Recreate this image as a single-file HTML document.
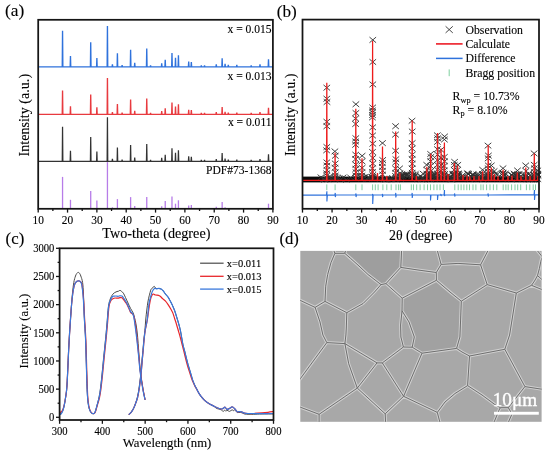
<!DOCTYPE html>
<html><head><meta charset="utf-8"><style>
html,body{margin:0;padding:0;background:#fff;width:550px;height:455px;overflow:hidden}
svg{display:block;font-family:"Liberation Serif", serif;will-change:transform}
</style></head><body>
<svg width="550" height="455" viewBox="0 0 550 455">
<g id="panel-a">
<path d="M38.20,66.90 L62.25,66.90 L62.55,30.80 L62.85,66.90 L70.17,66.90 L70.47,56.10 L70.77,66.90 L90.41,66.90 L90.71,42.30 L91.01,66.90 L96.58,66.90 L96.88,57.90 L97.17,66.90 L107.14,66.90 L107.44,26.00 L107.74,66.90 L112.12,66.90 L112.42,64.20 L112.72,66.90 L117.11,66.90 L117.41,53.20 L117.71,66.90 L121.81,66.90 L122.11,65.00 L122.41,66.90 L130.31,66.90 L130.61,49.70 L130.91,66.90 L134.42,66.90 L134.72,62.90 L135.02,66.90 L146.45,66.90 L146.75,48.40 L147.05,66.90 L150.26,66.90 L150.56,65.40 L150.86,66.90 L161.41,66.90 L161.71,63.20 L162.01,66.90 L164.93,66.90 L165.23,59.80 L165.53,66.90 L171.68,66.90 L171.98,53.00 L172.28,66.90 L175.20,66.90 L175.50,57.70 L175.80,66.90 L178.13,66.90 L178.43,55.20 L178.73,66.90 L188.40,66.90 L188.70,61.60 L189.00,66.90 L191.04,66.90 L191.34,62.00 L191.64,66.90 L201.02,66.90 L201.32,65.40 L201.62,66.90 L204.24,66.90 L204.54,65.40 L204.84,66.90 L215.98,66.90 L216.28,64.40 L216.58,66.90 L221.85,66.90 L222.15,58.20 L222.45,66.90 L224.78,66.90 L225.08,63.90 L225.38,66.90 L228.01,66.90 L228.31,64.90 L228.61,66.90 L236.51,66.90 L236.81,64.90 L237.11,66.90 L250.89,66.90 L251.19,65.40 L251.49,66.90 L259.69,66.90 L259.99,64.40 L260.29,66.90 L268.20,66.90 L268.50,59.30 L268.80,66.90 L272.90,66.90" fill="none" stroke="#2f72dc" stroke-width="1.35"/>
<path d="M38.20,114.30 L62.25,114.30 L62.55,90.40 L62.85,114.30 L70.17,114.30 L70.47,106.40 L70.77,114.30 L90.41,114.30 L90.71,94.60 L91.01,114.30 L96.58,114.30 L96.88,107.30 L97.17,114.30 L107.14,114.30 L107.44,78.10 L107.74,114.30 L112.12,114.30 L112.42,112.00 L112.72,114.30 L117.11,114.30 L117.41,104.00 L117.71,114.30 L121.81,114.30 L122.11,112.69 L122.41,114.30 L130.31,114.30 L130.61,99.60 L130.91,114.30 L134.42,114.30 L134.72,110.90 L135.02,114.30 L146.45,114.30 L146.75,98.50 L147.05,114.30 L150.26,114.30 L150.56,113.02 L150.86,114.30 L161.41,114.30 L161.71,111.16 L162.01,114.30 L164.93,114.30 L165.23,108.27 L165.53,114.30 L171.68,114.30 L171.98,102.48 L172.28,114.30 L175.20,114.30 L175.50,106.48 L175.80,114.30 L178.13,114.30 L178.43,104.36 L178.73,114.30 L188.40,114.30 L188.70,109.80 L189.00,114.30 L191.04,114.30 L191.34,110.13 L191.64,114.30 L201.02,114.30 L201.32,113.02 L201.62,114.30 L204.24,114.30 L204.54,113.02 L204.84,114.30 L215.98,114.30 L216.28,112.17 L216.58,114.30 L221.85,114.30 L222.15,106.91 L222.45,114.30 L224.78,114.30 L225.08,111.75 L225.38,114.30 L228.01,114.30 L228.31,112.60 L228.61,114.30 L236.51,114.30 L236.81,112.60 L237.11,114.30 L250.89,114.30 L251.19,113.02 L251.49,114.30 L259.69,114.30 L259.99,112.17 L260.29,114.30 L268.20,114.30 L268.50,107.84 L268.80,114.30 L272.90,114.30" fill="none" stroke="#e83a3f" stroke-width="1.35"/>
<path d="M38.20,161.40 L62.25,161.40 L62.55,126.80 L62.85,161.40 L70.17,161.40 L70.47,150.80 L70.77,161.40 L90.41,161.40 L90.71,136.90 L91.01,161.40 L96.58,161.40 L96.88,151.50 L97.17,161.40 L107.14,161.40 L107.44,117.20 L107.74,161.40 L112.12,161.40 L112.42,158.84 L112.72,161.40 L117.11,161.40 L117.41,147.50 L117.71,161.40 L121.81,161.40 L122.11,159.59 L122.41,161.40 L130.31,161.40 L130.61,145.00 L130.91,161.40 L134.42,161.40 L134.72,157.60 L135.02,161.40 L146.45,161.40 L146.75,144.00 L147.05,161.40 L150.26,161.40 L150.56,159.97 L150.86,161.40 L161.41,161.40 L161.71,157.89 L162.01,161.40 L164.93,161.40 L165.23,154.66 L165.53,161.40 L171.68,161.40 L171.98,148.19 L172.28,161.40 L175.20,161.40 L175.50,152.66 L175.80,161.40 L178.13,161.40 L178.43,150.28 L178.73,161.40 L188.40,161.40 L188.70,156.37 L189.00,161.40 L191.04,161.40 L191.34,156.75 L191.64,161.40 L201.02,161.40 L201.32,159.97 L201.62,161.40 L204.24,161.40 L204.54,159.97 L204.84,161.40 L215.98,161.40 L216.28,159.03 L216.58,161.40 L221.85,161.40 L222.15,153.14 L222.45,161.40 L224.78,161.40 L225.08,158.55 L225.38,161.40 L228.01,161.40 L228.31,159.50 L228.61,161.40 L236.51,161.40 L236.81,159.50 L237.11,161.40 L250.89,161.40 L251.19,159.97 L251.49,161.40 L259.69,161.40 L259.99,159.03 L260.29,161.40 L268.20,161.40 L268.50,154.18 L268.80,161.40 L272.90,161.40" fill="none" stroke="#333333" stroke-width="1.25"/>
<line x1="62.55" y1="208.80" x2="62.55" y2="176.90" stroke="#b77ce8" stroke-width="1.3" />
<line x1="70.47" y1="208.80" x2="70.47" y2="199.80" stroke="#b77ce8" stroke-width="1.3" />
<line x1="90.71" y1="208.80" x2="90.71" y2="190.90" stroke="#b77ce8" stroke-width="1.3" />
<line x1="96.88" y1="208.80" x2="96.88" y2="200.50" stroke="#b77ce8" stroke-width="1.3" />
<line x1="107.44" y1="208.80" x2="107.44" y2="162.10" stroke="#b77ce8" stroke-width="1.3" />
<line x1="112.42" y1="208.80" x2="112.42" y2="207.30" stroke="#b77ce8" stroke-width="1.3" />
<line x1="117.41" y1="208.80" x2="117.41" y2="199.10" stroke="#b77ce8" stroke-width="1.3" />
<line x1="130.61" y1="208.80" x2="130.61" y2="197.10" stroke="#b77ce8" stroke-width="1.3" />
<line x1="134.72" y1="208.80" x2="134.72" y2="206.10" stroke="#b77ce8" stroke-width="1.3" />
<line x1="146.75" y1="208.80" x2="146.75" y2="197.10" stroke="#b77ce8" stroke-width="1.3" />
<line x1="161.71" y1="208.80" x2="161.71" y2="206.30" stroke="#b77ce8" stroke-width="1.3" />
<line x1="165.23" y1="208.80" x2="165.23" y2="201.00" stroke="#b77ce8" stroke-width="1.3" />
<line x1="171.98" y1="208.80" x2="171.98" y2="196.50" stroke="#b77ce8" stroke-width="1.3" />
<line x1="175.50" y1="208.80" x2="175.50" y2="203.70" stroke="#b77ce8" stroke-width="1.3" />
<line x1="178.43" y1="208.80" x2="178.43" y2="200.30" stroke="#b77ce8" stroke-width="1.3" />
<line x1="188.70" y1="208.80" x2="188.70" y2="205.60" stroke="#b77ce8" stroke-width="1.3" />
<line x1="191.34" y1="208.80" x2="191.34" y2="205.10" stroke="#b77ce8" stroke-width="1.3" />
<line x1="216.28" y1="208.80" x2="216.28" y2="206.80" stroke="#b77ce8" stroke-width="1.3" />
<line x1="222.15" y1="208.80" x2="222.15" y2="202.10" stroke="#b77ce8" stroke-width="1.3" />
<line x1="225.08" y1="208.80" x2="225.08" y2="207.30" stroke="#b77ce8" stroke-width="1.3" />
<line x1="268.50" y1="208.80" x2="268.50" y2="203.70" stroke="#b77ce8" stroke-width="1.3" />
<rect x="38.2" y="19.8" width="234.70" height="189.00" fill="none" stroke="#151515" stroke-width="1.75"/>
<line x1="38.20" y1="208.80" x2="38.20" y2="212.60" stroke="#151515" stroke-width="1.3" />
<line x1="52.87" y1="208.80" x2="52.87" y2="211.00" stroke="#151515" stroke-width="1.3" />
<line x1="67.54" y1="208.80" x2="67.54" y2="212.60" stroke="#151515" stroke-width="1.3" />
<line x1="82.21" y1="208.80" x2="82.21" y2="211.00" stroke="#151515" stroke-width="1.3" />
<line x1="96.88" y1="208.80" x2="96.88" y2="212.60" stroke="#151515" stroke-width="1.3" />
<line x1="111.54" y1="208.80" x2="111.54" y2="211.00" stroke="#151515" stroke-width="1.3" />
<line x1="126.21" y1="208.80" x2="126.21" y2="212.60" stroke="#151515" stroke-width="1.3" />
<line x1="140.88" y1="208.80" x2="140.88" y2="211.00" stroke="#151515" stroke-width="1.3" />
<line x1="155.55" y1="208.80" x2="155.55" y2="212.60" stroke="#151515" stroke-width="1.3" />
<line x1="170.22" y1="208.80" x2="170.22" y2="211.00" stroke="#151515" stroke-width="1.3" />
<line x1="184.89" y1="208.80" x2="184.89" y2="212.60" stroke="#151515" stroke-width="1.3" />
<line x1="199.56" y1="208.80" x2="199.56" y2="211.00" stroke="#151515" stroke-width="1.3" />
<line x1="214.23" y1="208.80" x2="214.23" y2="212.60" stroke="#151515" stroke-width="1.3" />
<line x1="228.89" y1="208.80" x2="228.89" y2="211.00" stroke="#151515" stroke-width="1.3" />
<line x1="243.56" y1="208.80" x2="243.56" y2="212.60" stroke="#151515" stroke-width="1.3" />
<line x1="258.23" y1="208.80" x2="258.23" y2="211.00" stroke="#151515" stroke-width="1.3" />
<line x1="272.90" y1="208.80" x2="272.90" y2="212.60" stroke="#151515" stroke-width="1.3" />
<text x="0.00" y="0.00" font-size="11.4" text-anchor="middle" fill="#000" stroke="#000" stroke-width="0.12" transform="translate(38.20,224.20) scale(1,1.06)" >10</text>
<text x="0.00" y="0.00" font-size="11.4" text-anchor="middle" fill="#000" stroke="#000" stroke-width="0.12" transform="translate(67.54,224.20) scale(1,1.06)" >20</text>
<text x="0.00" y="0.00" font-size="11.4" text-anchor="middle" fill="#000" stroke="#000" stroke-width="0.12" transform="translate(96.88,224.20) scale(1,1.06)" >30</text>
<text x="0.00" y="0.00" font-size="11.4" text-anchor="middle" fill="#000" stroke="#000" stroke-width="0.12" transform="translate(126.21,224.20) scale(1,1.06)" >40</text>
<text x="0.00" y="0.00" font-size="11.4" text-anchor="middle" fill="#000" stroke="#000" stroke-width="0.12" transform="translate(155.55,224.20) scale(1,1.06)" >50</text>
<text x="0.00" y="0.00" font-size="11.4" text-anchor="middle" fill="#000" stroke="#000" stroke-width="0.12" transform="translate(184.89,224.20) scale(1,1.06)" >60</text>
<text x="0.00" y="0.00" font-size="11.4" text-anchor="middle" fill="#000" stroke="#000" stroke-width="0.12" transform="translate(214.23,224.20) scale(1,1.06)" >70</text>
<text x="0.00" y="0.00" font-size="11.4" text-anchor="middle" fill="#000" stroke="#000" stroke-width="0.12" transform="translate(243.56,224.20) scale(1,1.06)" >80</text>
<text x="0.00" y="0.00" font-size="11.4" text-anchor="middle" fill="#000" stroke="#000" stroke-width="0.12" transform="translate(272.90,224.20) scale(1,1.06)" >90</text>
<text x="102.30" y="238.10" font-size="14.2" text-anchor="start" fill="#000" stroke="#000" stroke-width="0.12" >Two-theta (degree)</text>
<text x="0.00" y="0.00" font-size="14.1" text-anchor="middle" fill="#000" stroke="#000" stroke-width="0.12" transform="translate(28.7,115.2) rotate(-90)">Intensity (a.u.)</text>
<text x="5.00" y="16.20" font-size="17.4" text-anchor="start" fill="#000" stroke="#000" stroke-width="0.12" >(a)</text>
<text x="0.00" y="0.00" font-size="11.55" text-anchor="end" fill="#000" stroke="#000" stroke-width="0.12" transform="translate(271.50,33.20) scale(1,1.05)" >x = 0.015</text>
<text x="0.00" y="0.00" font-size="11.55" text-anchor="end" fill="#000" stroke="#000" stroke-width="0.12" transform="translate(271.50,79.80) scale(1,1.05)" >x = 0.013</text>
<text x="0.00" y="0.00" font-size="11.55" text-anchor="end" fill="#000" stroke="#000" stroke-width="0.12" transform="translate(271.50,125.90) scale(1,1.05)" >x = 0.011</text>
<text x="0.00" y="0.00" font-size="11.55" text-anchor="end" fill="#000" stroke="#000" stroke-width="0.12" transform="translate(271.50,173.60) scale(1,1.05)" >PDF#73-1368</text>
</g>
<g id="panel-b">
<rect x="302.50" y="176.6" width="236.50" height="5.8" fill="#0a0a0a"/>
<path d="M323.5,84.9L330.1,90.5M323.5,90.5L330.1,84.9M323.5,95.9L330.1,101.5M323.5,101.5L330.1,95.9M323.7,99.2L330.3,104.8M323.7,104.8L330.3,99.2M323.5,119.0L330.1,124.6M323.5,124.6L330.1,119.0M323.5,123.4L330.1,129.0M323.5,129.0L330.1,123.4M323.5,144.2L330.1,149.8M323.5,149.8L330.1,144.2M323.3,147.5L329.9,153.1M323.3,153.1L329.9,147.5M323.5,159.6L330.1,165.2M323.5,165.2L330.1,159.6M323.6,162.9L330.2,168.5M323.6,168.5L330.2,162.9M323.6,167.3L330.2,172.9M323.6,172.9L330.2,167.3M323.3,170.6L329.9,176.2M323.3,176.2L329.9,170.6M323.4,172.8L330.0,178.4M323.4,178.4L330.0,172.8M331.6,148.6L338.2,154.2M331.6,154.2L338.2,148.6M332.0,153.0L338.6,158.6M332.0,158.6L338.6,153.0M331.9,160.7L338.5,166.3M331.9,166.3L338.5,160.7M331.6,165.1L338.2,170.7M331.6,170.7L338.2,165.1M332.0,169.5L338.6,175.1M332.0,175.1L338.6,169.5M332.0,172.8L338.6,178.4M332.0,178.4L338.6,172.8M352.6,101.4L359.2,107.0M352.6,107.0L359.2,101.4M352.6,110.2L359.2,115.8M352.6,115.8L359.2,110.2M352.3,115.7L358.9,121.3M352.3,121.3L358.9,115.7M352.3,121.2L358.9,126.8M352.3,126.8L358.9,121.2M352.5,135.4L359.1,141.0M352.5,141.0L359.1,135.4M352.3,138.7L358.9,144.3M352.3,144.3L358.9,138.7M352.3,142.0L358.9,147.6M352.3,147.6L358.9,142.0M352.4,151.9L359.0,157.5M352.4,157.5L359.0,151.9M352.3,156.3L358.9,161.9M352.3,161.9L358.9,156.3M352.5,161.8L359.1,167.4M352.5,167.4L359.1,161.8M352.5,166.2L359.1,171.8M352.5,171.8L359.1,166.2M352.7,169.5L359.3,175.1M352.7,175.1L359.3,169.5M352.5,172.8L359.1,178.4M352.5,178.4L359.1,172.8M358.8,153.0L365.4,158.6M358.8,158.6L365.4,153.0M358.7,158.5L365.3,164.1M358.7,164.1L365.3,158.5M358.8,165.1L365.4,170.7M358.8,170.7L365.4,165.1M358.7,169.5L365.3,175.1M358.7,175.1L365.3,169.5M358.6,172.8L365.2,178.4M358.6,178.4L365.2,172.8M369.5,37.1L376.1,42.7M369.5,42.7L376.1,37.1M369.5,59.2L376.1,64.8M369.5,64.8L376.1,59.2M369.5,81.6L376.1,87.2M369.5,87.2L376.1,81.6M369.4,104.7L376.0,110.3M369.4,110.3L376.0,104.7M369.2,107.7L375.8,113.3M369.2,113.3L375.8,107.7M369.2,109.6L375.8,115.2M369.2,115.2L375.8,109.6M369.2,112.2L375.8,117.8M369.2,117.8L375.8,112.2M369.1,114.6L375.7,120.2M369.1,120.2L375.7,114.6M369.4,124.5L376.0,130.1M369.4,130.1L376.0,124.5M369.3,132.7L375.9,138.3M369.3,138.3L375.9,132.7M369.5,140.9L376.1,146.5M369.5,146.5L376.1,140.9M369.2,149.2L375.8,154.8M369.2,154.8L375.8,149.2M369.5,155.2L376.1,160.8M369.5,160.8L376.1,155.2M369.5,160.7L376.1,166.3M369.5,166.3L376.1,160.7M369.1,165.7L375.7,171.3M369.1,171.3L375.7,165.7M369.2,169.2L375.8,174.8M369.2,174.8L375.8,169.2M369.5,172.2L376.1,177.8M369.5,177.8L376.1,172.2M379.2,140.3L385.8,145.9M379.2,145.9L385.8,140.3M379.4,157.2L386.0,162.8M379.4,162.8L386.0,157.2M379.1,160.2L385.7,165.8M379.1,165.8L385.7,160.2M379.0,164.1L385.6,169.7M379.0,169.7L385.6,164.1M379.3,168.0L385.9,173.6M379.3,173.6L385.9,168.0M379.3,171.8L385.9,177.4M379.3,177.4L385.9,171.8M392.3,123.4L398.9,129.0M392.3,129.0L398.9,123.4M392.2,131.8L398.8,137.4M392.2,137.4L398.8,131.8M392.3,148.0L398.9,153.6M392.3,153.6L398.9,148.0M392.6,156.4L399.2,162.0M392.6,162.0L399.2,156.4M392.5,159.5L399.1,165.1M392.5,165.1L399.1,159.5M392.2,165.7L398.8,171.3M392.2,171.3L398.8,165.7M392.3,170.2L398.9,175.8M392.3,175.8L398.9,170.2M392.2,173.2L398.8,178.8M392.2,178.8L398.8,173.2M396.3,165.7L402.9,171.3M396.3,171.3L402.9,165.7M396.6,170.7L403.2,176.3M396.6,176.3L403.2,170.7M408.7,118.0L415.3,123.6M408.7,123.6L415.3,118.0M408.9,128.7L415.5,134.3M408.9,134.3L415.5,128.7M408.9,140.3L415.5,145.9M408.9,145.9L415.5,140.3M408.7,145.7L415.3,151.3M408.7,151.3L415.3,145.7M409.0,151.8L415.6,157.4M409.0,157.4L415.6,151.8M408.7,156.4L415.3,162.0M408.7,162.0L415.3,156.4M409.0,161.0L415.6,166.6M409.0,166.6L415.6,161.0M408.7,165.7L415.3,171.3M408.7,171.3L415.3,165.7M408.9,170.2L415.5,175.8M408.9,175.8L415.5,170.2M408.8,173.2L415.4,178.8M408.8,178.8L415.4,173.2M423.4,162.1L430.0,167.7M423.4,167.7L430.0,162.1M423.7,167.2L430.3,172.8M423.7,172.8L430.3,167.2M423.7,171.2L430.3,176.8M423.7,176.8L430.3,171.2M427.3,151.2L433.9,156.8M427.3,156.8L433.9,151.2M427.6,154.2L434.2,159.8M427.6,159.8L434.2,154.2M427.3,158.5L433.9,164.1M427.3,164.1L433.9,158.5M427.3,163.2L433.9,168.8M427.3,168.8L433.9,163.2M427.6,168.2L434.2,173.8M427.6,173.8L434.2,168.2M427.5,171.7L434.1,177.3M427.5,177.3L434.1,171.7M434.0,132.5L440.6,138.1M434.0,138.1L440.6,132.5M434.4,135.5L441.0,141.1M434.4,141.1L441.0,135.5M434.1,139.1L440.7,144.7M434.1,144.7L440.7,139.1M434.1,146.4L440.7,152.0M434.1,152.0L440.7,146.4M434.3,151.8L440.9,157.4M434.3,157.4L440.9,151.8M434.1,157.2L440.7,162.8M434.1,162.8L440.7,157.2M434.1,162.1L440.7,167.7M434.1,167.7L440.7,162.1M434.0,166.9L440.6,172.5M434.0,172.5L440.6,166.9M434.0,170.7L440.6,176.3M434.0,176.3L440.6,170.7M434.2,173.2L440.8,178.8M434.2,178.8L440.8,173.2M437.7,147.0L444.3,152.6M437.7,152.6L444.3,147.0M437.9,155.2L444.5,160.8M437.9,160.8L444.5,155.2M437.7,162.2L444.3,167.8M437.7,167.8L444.3,162.2M437.8,168.2L444.4,173.8M437.8,173.8L444.4,168.2M441.3,133.7L447.9,139.3M441.3,139.3L447.9,133.7M441.1,136.7L447.7,142.3M441.1,142.3L447.7,136.7M441.1,154.2L447.7,159.8M441.1,159.8L447.7,154.2M441.3,158.5L447.9,164.1M441.3,164.1L447.9,158.5M440.9,163.2L447.5,168.8M440.9,168.8L447.5,163.2M440.9,167.7L447.5,173.3M440.9,173.3L447.5,167.7M441.3,171.2L447.9,176.8M441.3,176.8L447.9,171.2M451.3,159.1L457.9,164.7M451.3,164.7L457.9,159.1M451.0,162.1L457.6,167.7M451.0,167.7L457.6,162.1M450.9,167.2L457.5,172.8M450.9,172.8L457.5,167.2M451.2,171.2L457.8,176.8M451.2,176.8L457.8,171.2M454.5,162.1L461.1,167.7M454.5,167.7L461.1,162.1M454.1,167.2L460.7,172.8M454.1,172.8L460.7,167.2M454.5,171.2L461.1,176.8M454.5,176.8L461.1,171.2M463.9,170.5L470.5,176.1M463.9,176.1L470.5,170.5M475.8,171.7L482.4,177.3M475.8,177.3L482.4,171.7M479.3,167.0L485.9,172.6M479.3,172.6L485.9,167.0M479.1,171.2L485.7,176.8M479.1,176.8L485.7,171.2M484.7,142.8L491.3,148.4M484.7,148.4L491.3,142.8M485.1,152.8L491.7,158.4M485.1,158.4L491.7,152.8M484.8,155.6L491.4,161.2M484.8,161.2L491.4,155.6M485.0,162.7L491.6,168.3M485.0,168.3L491.6,162.7M484.8,165.5L491.4,171.1M484.8,171.1L491.4,165.5M485.1,169.2L491.7,174.8M485.1,174.8L491.7,169.2M484.9,172.7L491.5,178.3M484.9,178.3L491.5,172.7M488.0,162.7L494.6,168.3M488.0,168.3L494.6,162.7M487.9,168.2L494.5,173.8M487.9,173.8L494.5,168.2M488.2,172.2L494.8,177.8M488.2,177.8L494.8,172.2M490.8,168.4L497.4,174.0M490.8,174.0L497.4,168.4M499.7,165.5L506.3,171.1M499.7,171.1L506.3,165.5M499.8,170.2L506.4,175.8M499.8,175.8L506.4,170.2M514.2,167.7L520.8,173.3M514.2,173.3L520.8,167.7M514.1,171.7L520.7,177.3M514.1,177.3L520.7,171.7M522.4,162.7L529.0,168.3M522.4,168.3L529.0,162.7M522.7,168.2L529.3,173.8M522.7,173.8L529.3,168.2M522.4,172.2L529.0,177.8M522.4,177.8L529.0,172.2M530.8,150.6L537.4,156.2M530.8,156.2L537.4,150.6M530.9,162.0L537.5,167.6M530.9,167.6L537.5,162.0M531.0,165.5L537.6,171.1M531.0,171.1L537.6,165.5M530.8,169.2L537.4,174.8M530.8,174.8L537.4,169.2M530.8,172.7L537.4,178.3M530.8,178.3L537.4,172.7M534.5,167.7L541.1,173.3M534.5,173.3L541.1,167.7M534.6,171.7L541.2,177.3M534.6,177.3L541.2,171.7M510.7,170.8L517.3,176.4M510.7,176.4L517.3,170.8M459.2,172.5L465.8,178.2M459.2,178.2L465.8,172.5M443.3,175.9L449.9,181.5M443.3,181.5L449.9,175.9M514.9,172.5L521.5,178.1M514.9,178.1L521.5,172.5M526.5,176.6L533.1,182.2M526.5,182.2L533.1,176.6M454.7,173.8L461.3,179.4M454.7,179.4L461.3,173.8M475.4,174.8L482.0,180.4M475.4,180.4L482.0,174.8M534.6,176.2L541.2,181.9M534.6,181.9L541.2,176.2M434.8,172.3L441.4,177.9M434.8,177.9L441.4,172.3M512.7,172.3L519.3,177.9M512.7,177.9L519.3,172.3M469.5,171.9L476.1,177.5M469.5,177.5L476.1,171.9M516.0,174.6L522.6,180.2M516.0,180.2L522.6,174.6M465.4,171.3L472.0,176.9M465.4,176.9L472.0,171.3M506.3,174.2L512.9,179.8M506.3,179.8L512.9,174.2M488.6,171.5L495.2,177.1M488.6,177.1L495.2,171.5M440.7,172.9L447.3,178.6M440.7,178.6L447.3,172.9M398.8,173.2L405.4,178.8M398.8,178.8L405.4,173.2M448.7,176.2L455.3,181.8M448.7,181.8L455.3,176.2M455.4,170.7L462.0,176.3M455.4,176.3L462.0,170.7M508.3,172.3L514.9,177.9M508.3,177.9L514.9,172.3M400.2,172.3L406.8,177.9M400.2,177.9L406.8,172.3M442.5,174.1L449.1,179.7M442.5,179.7L449.1,174.1M499.1,176.2L505.7,181.8M499.1,181.8L505.7,176.2M479.7,176.5L486.3,182.1M479.7,182.1L486.3,176.5M447.0,173.8L453.6,179.4M447.0,179.4L453.6,173.8M365.3,175.5L371.9,181.1M365.3,181.1L371.9,175.5M449.9,171.2L456.5,176.8M449.9,176.8L456.5,171.2M380.9,176.2L387.5,181.8M380.9,181.8L387.5,176.2M352.0,175.0L358.6,180.7M352.0,180.7L358.6,175.0M411.9,171.3L418.5,177.0M411.9,177.0L418.5,171.3M386.6,176.2L393.2,181.8M386.6,181.8L393.2,176.2M409.5,171.9L416.1,177.5M409.5,177.5L416.1,171.9M515.8,171.4L522.4,177.0M515.8,177.0L522.4,171.4M399.3,173.2L405.9,178.8M399.3,178.8L405.9,173.2M423.9,171.7L430.5,177.3M423.9,177.3L430.5,171.7M501.4,172.4L508.0,178.0M501.4,178.0L508.0,172.4M523.7,175.0L530.3,180.6M523.7,180.6L530.3,175.0M405.8,172.9L412.4,178.6M405.8,178.6L412.4,172.9M423.4,174.8L430.0,180.4M423.4,180.4L430.0,174.8M499.3,170.8L505.9,176.4M499.3,176.4L505.9,170.8M414.2,176.2L420.8,181.9M414.2,181.9L420.8,176.2M321.6,176.6L328.2,182.2M321.6,182.2L328.2,176.6M470.6,173.3L477.2,178.9M470.6,178.9L477.2,173.3M382.7,176.6L389.3,182.3M382.7,182.3L389.3,176.6M320.1,176.1L326.7,181.7M320.1,181.7L326.7,176.1M453.1,174.0L459.7,179.6M453.1,179.6L459.7,174.0M453.3,172.8L459.9,178.4M453.3,178.4L459.9,172.8M492.3,170.9L498.9,176.6M492.3,176.6L498.9,170.9M465.3,175.5L471.9,181.1M465.3,181.1L471.9,175.5M419.2,175.6L425.8,181.2M419.2,181.2L425.8,175.6M471.8,175.6L478.4,181.2M471.8,181.2L478.4,175.6M468.1,173.6L474.7,179.2M468.1,179.2L474.7,173.6M449.9,172.2L456.5,177.8M449.9,177.8L456.5,172.2M401.3,171.9L407.9,177.6M401.3,177.6L407.9,171.9M514.1,176.2L520.7,181.8M514.1,181.8L520.7,176.2M519.9,172.4L526.5,178.0M519.9,178.0L526.5,172.4M452.3,171.2L458.9,176.8M452.3,176.8L458.9,171.2M397.6,173.3L404.2,178.9M397.6,178.9L404.2,173.3M508.2,171.9L514.8,177.5M508.2,177.5L514.8,171.9M522.4,173.9L529.0,179.5M522.4,179.5L529.0,173.9M458.0,175.5L464.6,181.1M458.0,181.1L464.6,175.5M473.5,171.8L480.1,177.4M473.5,177.4L480.1,171.8M455.9,172.4L462.5,178.0M455.9,178.0L462.5,172.4M361.6,174.2L368.2,179.9M361.6,179.9L368.2,174.2M529.7,173.5L536.3,179.1M529.7,179.1L536.3,173.5M488.7,174.8L495.3,180.4M488.7,180.4L495.3,174.8M514.9,171.6L521.5,177.2M514.9,177.2L521.5,171.6M411.7,173.4L418.3,179.0M411.7,179.0L418.3,173.4M483.7,173.8L490.3,179.4M483.7,179.4L490.3,173.8M321.0,176.5L327.6,182.1M321.0,182.1L327.6,176.5M490.7,175.7L497.3,181.3M490.7,181.3L497.3,175.7M388.4,176.3L395.0,182.0M388.4,182.0L395.0,176.3M347.4,174.9L354.0,180.5M347.4,180.5L354.0,174.9M499.5,172.6L506.1,178.2M499.5,178.2L506.1,172.6M522.8,173.7L529.4,179.3M522.8,179.3L529.4,173.7M523.5,176.2L530.1,181.8M523.5,181.8L530.1,176.2M363.4,176.0L370.0,181.6M363.4,181.6L370.0,176.0M475.0,172.9L481.6,178.5M475.0,178.5L481.6,172.9M429.7,171.6L436.3,177.2M429.7,177.2L436.3,171.6M437.9,174.8L444.5,180.4M437.9,180.4L444.5,174.8M398.6,171.6L405.2,177.2M398.6,177.2L405.2,171.6M512.8,175.4L519.4,181.1M512.8,181.1L519.4,175.4M501.9,170.9L508.5,176.5M501.9,176.5L508.5,170.9M430.0,173.3L436.6,178.9M430.0,178.9L436.6,173.3M358.9,175.4L365.5,181.0M358.9,181.0L365.5,175.4M447.9,176.5L454.5,182.1M447.9,182.1L454.5,176.5M528.0,173.6L534.6,179.2M528.0,179.2L534.6,173.6M402.8,171.9L409.4,177.5M402.8,177.5L409.4,171.9M438.5,173.7L445.1,179.4M438.5,179.4L445.1,173.7M466.7,176.3L473.3,181.9M466.7,181.9L473.3,176.3M433.2,174.2L439.8,179.8M433.2,179.8L439.8,174.2M525.2,171.2L531.8,176.8M525.2,176.8L531.8,171.2M494.2,171.3L500.8,176.9M494.2,176.9L500.8,171.3M419.5,174.8L426.1,180.4M419.5,180.4L426.1,174.8M356.8,174.4L363.4,180.0M356.8,180.0L363.4,174.4M343.2,176.6L349.8,182.2M343.2,182.2L349.8,176.6M465.8,174.8L472.4,180.4M465.8,180.4L472.4,174.8M392.9,176.4L399.5,182.0M392.9,182.0L399.5,176.4M475.5,176.0L482.1,181.6M475.5,181.6L482.1,176.0M427.0,175.2L433.6,180.8M427.0,180.8L433.6,175.2M358.2,175.6L364.8,181.2M358.2,181.2L364.8,175.6M397.4,174.2L404.0,179.8M397.4,179.8L404.0,174.2M431.2,175.7L437.8,181.3M431.2,181.3L437.8,175.7M359.6,175.1L366.2,180.7M359.6,180.7L366.2,175.1M431.2,171.6L437.8,177.2M431.2,177.2L437.8,171.6M449.3,171.6L455.9,177.2M449.3,177.2L455.9,171.6M365.9,174.7L372.5,180.3M365.9,180.3L372.5,174.7M513.3,174.8L519.9,180.4M513.3,180.4L519.9,174.8M384.0,176.1L390.6,181.8M384.0,181.8L390.6,176.1M534.3,171.4L540.9,177.0M534.3,177.0L540.9,171.4M474.5,175.1L481.1,180.7M474.5,180.7L481.1,175.1M336.0,175.6L342.6,181.3M336.0,181.3L342.6,175.6M488.5,175.9L495.1,181.5M488.5,181.5L495.1,175.9M403.3,172.6L409.9,178.2M403.3,178.2L409.9,172.6M464.8,171.2L471.4,176.8M464.8,176.8L471.4,171.2M527.7,176.0L534.3,181.6M527.7,181.6L534.3,176.0M425.9,172.1L432.5,177.8M425.9,177.8L432.5,172.1M425.3,172.6L431.9,178.2M425.3,178.2L431.9,172.6M436.1,173.6L442.7,179.2M436.1,179.2L442.7,173.6M439.8,175.8L446.4,181.4M439.8,181.4L446.4,175.8M499.5,170.8L506.1,176.4M499.5,176.4L506.1,170.8M518.6,176.1L525.2,181.7M518.6,181.7L525.2,176.1M328.3,175.5L334.9,181.1M328.3,181.1L334.9,175.5M482.9,174.7L489.5,180.3M482.9,180.3L489.5,174.7M417.4,173.6L424.0,179.2M417.4,179.2L424.0,173.6M409.3,173.1L415.9,178.7M409.3,178.7L415.9,173.1M317.6,174.6L324.2,180.2M317.6,180.2L324.2,174.6M477.4,174.3L484.0,179.9M477.4,179.9L484.0,174.3M427.5,176.6L434.1,182.2M427.5,182.2L434.1,176.6M511.2,171.9L517.8,177.5M511.2,177.5L517.8,171.9M469.7,171.5L476.3,177.1M469.7,177.1L476.3,171.5M453.2,174.3L459.8,179.9M453.2,179.9L459.8,174.3M446.6,173.7L453.2,179.3M446.6,179.3L453.2,173.7M530.9,171.9L537.5,177.5M530.9,177.5L537.5,171.9M371.5,174.8L378.1,180.4M371.5,180.4L378.1,174.8M485.9,171.8L492.5,177.4M485.9,177.4L492.5,171.8M403.9,171.3L410.5,176.9M403.9,176.9L410.5,171.3M508.3,172.5L514.9,178.1M508.3,178.1L514.9,172.5M483.5,172.1L490.1,177.7M483.5,177.7L490.1,172.1M404.0,172.4L410.6,178.0M404.0,178.0L410.6,172.4M417.8,176.6L424.4,182.2M417.8,182.2L424.4,176.6M392.9,175.1L399.5,180.7M392.9,180.7L399.5,175.1M365.8,175.0L372.4,180.6M365.8,180.6L372.4,175.0M389.0,175.3L395.6,180.9M389.0,180.9L395.6,175.3M432.0,174.4L438.6,180.0M432.0,180.0L438.6,174.4M534.7,172.8L541.3,178.5M534.7,178.5L541.3,172.8M469.0,172.1L475.6,177.7M469.0,177.7L475.6,172.1M530.3,176.6L536.9,182.2M530.3,182.2L536.9,176.6M450.1,172.3L456.7,177.9M450.1,177.9L456.7,172.3M397.3,176.1L403.9,181.7M397.3,181.7L403.9,176.1M369.9,175.3L376.5,180.9M369.9,180.9L376.5,175.3M426.4,170.9L433.0,176.5M426.4,176.5L433.0,170.9M439.7,170.7L446.3,176.3M439.7,176.3L446.3,170.7M455.1,171.8L461.7,177.4M455.1,177.4L461.7,171.8M331.5,174.8L338.1,180.4M331.5,180.4L338.1,174.8M324.6,176.3L331.2,181.9M324.6,181.9L331.2,176.3M418.5,175.7L425.1,181.3M418.5,181.3L425.1,175.7M423.7,173.0L430.3,178.6M423.7,178.6L430.3,173.0M327.6,175.6L334.2,181.3M327.6,181.3L334.2,175.6M430.6,173.1L437.2,178.7M430.6,178.7L437.2,173.1M458.8,173.3L465.4,178.9M458.8,178.9L465.4,173.3M377.1,176.0L383.7,181.6M377.1,181.6L383.7,176.0M480.7,174.4L487.3,180.0M480.7,180.0L487.3,174.4M512.2,172.2L518.8,177.8M512.2,177.8L518.8,172.2M325.7,174.3L332.3,179.9M325.7,179.9L332.3,174.3M330.9,175.6L337.5,181.2M330.9,181.2L337.5,175.6M419.8,170.9L426.4,176.5M419.8,176.5L426.4,170.9M368.3,174.4L374.9,180.0M368.3,180.0L374.9,174.4M473.7,173.9L480.3,179.5M473.7,179.5L480.3,173.9M530.0,171.8L536.6,177.4M530.0,177.4L536.6,171.8M447.5,176.0L454.1,181.6M447.5,181.6L454.1,176.0M452.0,174.0L458.6,179.6M452.0,179.6L458.6,174.0M430.9,175.9L437.5,181.6M430.9,181.6L437.5,175.9M412.1,172.7L418.7,178.3M412.1,178.3L418.7,172.7M414.9,175.1L421.5,180.7M414.9,180.7L421.5,175.1M442.8,174.2L449.4,179.8M442.8,179.8L449.4,174.2M485.9,173.5L492.5,179.1M485.9,179.1L492.5,173.5M534.2,171.0L540.8,176.6M534.2,176.6L540.8,171.0M476.2,175.3L482.8,180.9M476.2,180.9L482.8,175.3M339.8,174.7L346.4,180.3M339.8,180.3L346.4,174.7M452.2,174.5L458.8,180.1M452.2,180.1L458.8,174.5M374.4,175.3L381.0,180.9M374.4,180.9L381.0,175.3M444.9,172.9L451.5,178.5M444.9,178.5L451.5,172.9M480.4,175.6L487.0,181.2M480.4,181.2L487.0,175.6M369.5,174.4L376.1,180.0M369.5,180.0L376.1,174.4M508.0,176.5L514.6,182.1M508.0,182.1L514.6,176.5M408.2,173.0L414.8,178.6M408.2,178.6L414.8,173.0M337.2,176.5L343.8,182.1M337.2,182.1L343.8,176.5M333.7,175.3L340.3,180.9M333.7,180.9L340.3,175.3M453.5,174.5L460.1,180.1M453.5,180.1L460.1,174.5" stroke="#2e2e2e" stroke-width="0.9" fill="none"/>
<path d="M302.50,180.30 L326.55,180.30 L326.80,82.70 L327.05,180.30 L334.85,180.30 L335.10,152.70 L335.35,180.30 L355.55,180.30 L355.80,108.70 L356.05,180.30 L361.75,180.30 L362.00,158.20 L362.25,180.30 L372.35,180.30 L372.60,41.00 L372.85,180.30 L377.25,180.30 L377.50,173.00 L377.75,180.30 L382.25,180.30 L382.50,146.60 L382.75,180.30 L386.55,180.30 L386.80,176.00 L387.05,180.30 L395.45,180.30 L395.70,131.60 L395.95,180.30 L399.55,180.30 L399.80,173.00 L400.05,180.30 L411.95,180.30 L412.20,120.50 L412.45,180.30 L416.05,180.30 L416.30,176.00 L416.55,180.30 L426.55,180.30 L426.80,166.70 L427.05,180.30 L430.45,180.30 L430.70,153.80 L430.95,180.30 L437.25,180.30 L437.50,132.90 L437.75,180.30 L440.85,180.30 L441.10,148.60 L441.35,180.30 L444.15,180.30 L444.40,142.50 L444.65,180.30 L447.75,180.30 L448.00,174.00 L448.25,180.30 L454.15,180.30 L454.40,163.10 L454.65,180.30 L457.35,180.30 L457.60,165.50 L457.85,180.30 L462.75,180.30 L463.00,175.00 L463.25,180.30 L466.75,180.30 L467.00,175.40 L467.25,180.30 L469.55,180.30 L469.80,176.50 L470.05,180.30 L473.75,180.30 L474.00,176.00 L474.25,180.30 L478.75,180.30 L479.00,176.10 L479.25,180.30 L482.35,180.30 L482.60,171.20 L482.85,180.30 L487.95,180.30 L488.20,144.90 L488.45,180.30 L491.15,180.30 L491.40,167.60 L491.65,180.30 L494.05,180.30 L494.30,174.00 L494.55,180.30 L497.75,180.30 L498.00,176.00 L498.25,180.30 L502.85,180.30 L503.10,169.80 L503.35,180.30 L507.75,180.30 L508.00,176.00 L508.25,180.30 L511.75,180.30 L512.00,175.50 L512.25,180.30 L517.05,180.30 L517.30,172.60 L517.55,180.30 L520.75,180.30 L521.00,176.00 L521.25,180.30 L525.55,180.30 L525.80,167.60 L526.05,180.30 L529.75,180.30 L530.00,176.00 L530.25,180.30 L534.05,180.30 L534.30,153.40 L534.55,180.30 L537.65,180.30 L537.90,176.00 L538.15,180.30 L539.00,180.30" fill="none" stroke="#ee1c1c" stroke-width="1.25"/>
<path d="M326.8,184.4V190.2M335.1,184.4V190.2M355.8,184.4V190.2M362.0,184.4V190.2M372.6,184.4V190.2M375.3,184.4V190.2M378.1,184.4V190.2M382.9,184.4V190.2M386.8,184.4V190.2M391.2,184.4V190.2M396.0,184.4V190.2M398.6,184.4V190.2M400.4,184.4V190.2M411.3,184.4V190.2M413.5,184.4V190.2M416.7,184.4V190.2M420.1,184.4V190.2M424.1,184.4V190.2M427.5,184.4V190.2M430.5,184.4V190.2M433.9,184.4V190.2M437.0,184.4V190.2M440.0,184.4V190.2M443.4,184.4V190.2M454.8,184.4V190.2M458.2,184.4V190.2M461.1,184.4V190.2M463.9,184.4V190.2M466.8,184.4V190.2M469.5,184.4V190.2M473.0,184.4V190.2M475.9,184.4V190.2M480.9,184.4V190.2M483.2,184.4V190.2M486.6,184.4V190.2M490.0,184.4V190.2M493.4,184.4V190.2M496.8,184.4V190.2M503.2,184.4V190.2M505.9,184.4V190.2M508.2,184.4V190.2M511.6,184.4V190.2M515.0,184.4V190.2M517.7,184.4V190.2M520.7,184.4V190.2M526.4,184.4V190.2M529.8,184.4V190.2M533.2,184.4V190.2M535.5,184.4V190.2" stroke="#7fcf9f" stroke-width="1.0" fill="none"/>
<path d="M302.50,195.10 L326.40,195.08 L326.90,191.3 L326.90,201.5 L327.40,195.08 L334.80,195.07 L335.30,193 L335.30,197 L335.80,195.07 L355.50,195.05 L356.00,193.5 L356.00,197 L356.50,195.05 L372.20,195.04 L372.70,194 L372.70,204 L373.20,195.04 L382.00,195.03 L382.50,194 L382.50,197 L383.00,195.03 L395.30,195.02 L395.80,193 L395.80,197.5 L396.30,195.02 L411.70,195.01 L412.20,193 L412.20,198 L412.70,195.01 L430.00,194.99 L430.50,195 L430.50,200.5 L431.00,194.99 L437.00,194.99 L437.50,195 L437.50,200 L438.00,194.99 L440.50,194.98 L441.00,194 L441.00,196 L441.50,194.98 L444.00,194.98 L444.50,190 L444.50,196 L445.00,194.98 L454.20,194.97 L454.70,193.5 L454.70,196.5 L455.20,194.97 L487.70,194.94 L488.20,193.5 L488.20,196.5 L488.70,194.94 L534.00,194.90 L534.50,190 L534.50,200 L535.00,194.90 L539.00,194.90" fill="none" stroke="#2f72dc" stroke-width="1.1"/>
<rect x="302.5" y="19.6" width="236.50" height="189.20" fill="none" stroke="#151515" stroke-width="1.75"/>
<line x1="302.50" y1="208.80" x2="302.50" y2="212.60" stroke="#151515" stroke-width="1.3" />
<line x1="317.28" y1="208.80" x2="317.28" y2="211.00" stroke="#151515" stroke-width="1.3" />
<line x1="332.06" y1="208.80" x2="332.06" y2="212.60" stroke="#151515" stroke-width="1.3" />
<line x1="346.84" y1="208.80" x2="346.84" y2="211.00" stroke="#151515" stroke-width="1.3" />
<line x1="361.62" y1="208.80" x2="361.62" y2="212.60" stroke="#151515" stroke-width="1.3" />
<line x1="376.41" y1="208.80" x2="376.41" y2="211.00" stroke="#151515" stroke-width="1.3" />
<line x1="391.19" y1="208.80" x2="391.19" y2="212.60" stroke="#151515" stroke-width="1.3" />
<line x1="405.97" y1="208.80" x2="405.97" y2="211.00" stroke="#151515" stroke-width="1.3" />
<line x1="420.75" y1="208.80" x2="420.75" y2="212.60" stroke="#151515" stroke-width="1.3" />
<line x1="435.53" y1="208.80" x2="435.53" y2="211.00" stroke="#151515" stroke-width="1.3" />
<line x1="450.31" y1="208.80" x2="450.31" y2="212.60" stroke="#151515" stroke-width="1.3" />
<line x1="465.09" y1="208.80" x2="465.09" y2="211.00" stroke="#151515" stroke-width="1.3" />
<line x1="479.88" y1="208.80" x2="479.88" y2="212.60" stroke="#151515" stroke-width="1.3" />
<line x1="494.66" y1="208.80" x2="494.66" y2="211.00" stroke="#151515" stroke-width="1.3" />
<line x1="509.44" y1="208.80" x2="509.44" y2="212.60" stroke="#151515" stroke-width="1.3" />
<line x1="524.22" y1="208.80" x2="524.22" y2="211.00" stroke="#151515" stroke-width="1.3" />
<line x1="539.00" y1="208.80" x2="539.00" y2="212.60" stroke="#151515" stroke-width="1.3" />
<text x="0.00" y="0.00" font-size="11.4" text-anchor="middle" fill="#000" stroke="#000" stroke-width="0.12" transform="translate(302.50,224.40) scale(1,1.06)" >10</text>
<text x="0.00" y="0.00" font-size="11.4" text-anchor="middle" fill="#000" stroke="#000" stroke-width="0.12" transform="translate(332.06,224.40) scale(1,1.06)" >20</text>
<text x="0.00" y="0.00" font-size="11.4" text-anchor="middle" fill="#000" stroke="#000" stroke-width="0.12" transform="translate(361.62,224.40) scale(1,1.06)" >30</text>
<text x="0.00" y="0.00" font-size="11.4" text-anchor="middle" fill="#000" stroke="#000" stroke-width="0.12" transform="translate(391.19,224.40) scale(1,1.06)" >40</text>
<text x="0.00" y="0.00" font-size="11.4" text-anchor="middle" fill="#000" stroke="#000" stroke-width="0.12" transform="translate(420.75,224.40) scale(1,1.06)" >50</text>
<text x="0.00" y="0.00" font-size="11.4" text-anchor="middle" fill="#000" stroke="#000" stroke-width="0.12" transform="translate(450.31,224.40) scale(1,1.06)" >60</text>
<text x="0.00" y="0.00" font-size="11.4" text-anchor="middle" fill="#000" stroke="#000" stroke-width="0.12" transform="translate(479.88,224.40) scale(1,1.06)" >70</text>
<text x="0.00" y="0.00" font-size="11.4" text-anchor="middle" fill="#000" stroke="#000" stroke-width="0.12" transform="translate(509.44,224.40) scale(1,1.06)" >80</text>
<text x="0.00" y="0.00" font-size="11.4" text-anchor="middle" fill="#000" stroke="#000" stroke-width="0.12" transform="translate(539.00,224.40) scale(1,1.06)" >90</text>
<text x="389.00" y="239.60" font-size="13.9" text-anchor="start" fill="#000" stroke="#000" stroke-width="0.12" >2θ (degree)</text>
<text x="0.00" y="0.00" font-size="14.1" text-anchor="middle" fill="#000" stroke="#000" stroke-width="0.12" transform="translate(294.6,114.8) rotate(-90)">Intensity (a.u.)</text>
<text x="276.70" y="16.60" font-size="17.2" text-anchor="start" fill="#000" stroke="#000" stroke-width="0.12" >(b)</text>
<path d="M445.59999999999997,26.3L452.8,32.9M445.59999999999997,32.9L452.8,26.3" stroke="#333" stroke-width="0.9"/>
<text x="465.50" y="33.80" font-size="11.75" text-anchor="start" fill="#000" stroke="#000" stroke-width="0.12" >Observation</text>
<line x1="436.00" y1="43.90" x2="462.60" y2="43.90" stroke="#ee2a33" stroke-width="1.7" />
<text x="465.50" y="48.10" font-size="11.75" text-anchor="start" fill="#000" stroke="#000" stroke-width="0.12" >Calculate</text>
<line x1="436.00" y1="58.40" x2="462.60" y2="58.40" stroke="#2f72dc" stroke-width="1.5" />
<text x="465.50" y="62.40" font-size="11.75" text-anchor="start" fill="#000" stroke="#000" stroke-width="0.12" >Difference</text>
<line x1="449.20" y1="69.40" x2="449.20" y2="76.20" stroke="#7fcf9f" stroke-width="1.0" />
<text x="465.50" y="76.50" font-size="11.75" text-anchor="start" fill="#000" stroke="#000" stroke-width="0.12" >Bragg position</text>
<text x="452.60" y="99.90" font-size="11.8" text-anchor="start" fill="#000" stroke="#000" stroke-width="0.12" >R<tspan font-size="8.3" dy="2.6">wp</tspan><tspan dy="-2.6"> = 10.73%</tspan></text>
<text x="452.60" y="113.50" font-size="11.8" text-anchor="start" fill="#000" stroke="#000" stroke-width="0.12" >R<tspan font-size="8.3" dy="2.6">p</tspan><tspan dy="-2.6"> = 8.10%</tspan></text>
</g>
<g id="panel-c">
<path d="M59.80,413.80 C60.00,413.73 60.55,413.78 61.00,413.40 C61.45,413.02 62.00,412.65 62.50,411.50 C63.00,410.35 63.50,408.75 64.00,406.50 C64.50,404.25 65.00,401.58 65.50,398.00 C66.00,394.42 66.43,393.83 67.00,385.00 C67.57,376.17 68.30,356.23 68.90,345.00 C69.50,333.77 70.03,325.93 70.60,317.60 C71.17,309.27 71.77,300.85 72.30,295.00 C72.83,289.15 73.27,285.67 73.80,282.50 C74.33,279.33 74.97,277.55 75.50,276.00 C76.03,274.45 76.55,273.80 77.00,273.20 C77.45,272.60 77.78,272.40 78.20,272.40 C78.62,272.40 79.07,272.60 79.50,273.20 C79.93,273.80 80.28,274.45 80.80,276.00 C81.32,277.55 82.15,279.33 82.60,282.50 C83.05,285.67 83.22,289.15 83.50,295.00 C83.78,300.85 83.95,310.10 84.30,317.60 C84.65,325.10 85.23,331.27 85.60,340.00 C85.97,348.73 86.20,360.83 86.50,370.00 C86.80,379.17 87.05,389.00 87.40,395.00 C87.75,401.00 88.08,403.20 88.60,406.00 C89.12,408.80 89.78,410.52 90.50,411.80 C91.22,413.08 92.15,413.63 92.90,413.70 C93.65,413.77 94.32,413.57 95.00,412.20 C95.68,410.83 96.36,407.87 97.00,405.50 C97.64,403.13 98.31,400.58 98.85,398.00 C99.39,395.42 99.73,393.83 100.25,390.00 C100.77,386.17 101.38,380.42 101.95,375.00 C102.52,369.58 103.07,363.33 103.65,357.50 C104.23,351.67 104.92,345.42 105.45,340.00 C105.98,334.58 106.35,330.60 106.85,325.00 C107.35,319.40 107.88,310.73 108.45,306.40 C109.02,302.07 109.70,300.77 110.25,299.00 C110.80,297.23 111.29,296.63 111.75,295.80 C112.21,294.97 112.49,294.55 113.00,294.00 C113.51,293.45 114.13,292.92 114.80,292.50 C115.47,292.08 116.38,291.72 117.00,291.50 C117.62,291.28 118.00,291.40 118.50,291.20 C119.00,291.00 119.47,290.25 120.00,290.30 C120.53,290.35 121.13,291.02 121.70,291.50 C122.27,291.98 122.77,292.20 123.40,293.20 C124.03,294.20 124.73,295.87 125.50,297.50 C126.27,299.13 127.15,301.17 128.00,303.00 C128.85,304.83 129.73,306.83 130.60,308.50 C131.47,310.17 132.55,311.50 133.20,313.00 C133.85,314.50 134.05,315.75 134.50,317.50 C134.95,319.25 135.48,321.25 135.90,323.50 C136.32,325.75 136.67,328.25 137.00,331.00 C137.33,333.75 137.57,336.00 137.90,340.00 C138.23,344.00 138.60,349.87 139.00,355.00 C139.40,360.13 139.85,366.47 140.30,370.80 C140.75,375.13 141.25,377.93 141.70,381.00 C142.15,384.07 142.60,386.87 143.00,389.20 C143.40,391.53 143.75,393.23 144.10,395.00 C144.45,396.77 144.93,399.00 145.10,399.80" fill="none" stroke="#4a4a4a" stroke-width="1.0" stroke-linejoin="round"/>
<path d="M128.80,414.70 C129.25,414.22 130.72,412.83 131.50,411.80 C132.28,410.77 132.92,409.63 133.50,408.50 C134.08,407.37 134.38,406.75 135.00,405.00 C135.62,403.25 136.55,400.63 137.20,398.00 C137.85,395.37 138.42,392.20 138.90,389.20 C139.38,386.20 139.73,383.07 140.10,380.00 C140.47,376.93 140.78,374.13 141.10,370.80 C141.42,367.47 141.70,363.38 142.00,360.00 C142.30,356.62 142.60,353.83 142.90,350.50 C143.20,347.17 143.47,343.33 143.80,340.00 C144.13,336.67 144.58,333.83 144.90,330.50 C145.22,327.17 145.38,323.42 145.70,320.00 C146.02,316.58 146.43,313.00 146.80,310.00 C147.17,307.00 147.50,304.37 147.90,302.00 C148.30,299.63 148.70,297.85 149.20,295.80 C149.70,293.75 150.45,290.93 150.90,289.70 C151.35,288.47 151.52,288.78 151.90,288.40 C152.28,288.02 152.83,287.77 153.20,287.40 C153.57,287.03 153.73,286.12 154.10,286.20 C154.47,286.28 154.95,287.50 155.40,287.90 C155.85,288.30 156.22,288.50 156.80,288.60 C157.38,288.70 158.12,288.38 158.90,288.50 C159.68,288.62 160.77,288.88 161.50,289.30 C162.23,289.72 162.63,290.20 163.30,291.00 C163.97,291.80 164.70,293.08 165.50,294.10 C166.30,295.12 167.30,295.93 168.10,297.10 C168.90,298.27 169.57,299.70 170.30,301.10 C171.03,302.50 171.77,303.88 172.50,305.50 C173.23,307.12 173.97,308.75 174.70,310.80 C175.43,312.85 176.25,315.68 176.90,317.80 C177.55,319.92 178.00,321.30 178.60,323.50 C179.20,325.70 179.80,327.58 180.50,331.00 C181.20,334.42 182.12,340.67 182.80,344.00 C183.48,347.33 184.02,348.67 184.60,351.00 C185.18,353.33 185.73,355.75 186.30,358.00 C186.87,360.25 187.42,362.43 188.00,364.50 C188.58,366.57 189.23,368.48 189.80,370.40 C190.37,372.32 190.92,374.25 191.44,376.00 C191.96,377.75 192.37,379.32 192.94,380.90 C193.51,382.48 194.18,384.05 194.86,385.50 C195.54,386.95 196.31,388.28 197.00,389.60 C197.69,390.92 198.28,392.22 199.00,393.40 C199.72,394.58 200.50,395.67 201.30,396.70 C202.10,397.73 202.92,398.73 203.80,399.60 C204.68,400.47 205.70,401.22 206.60,401.90 C207.50,402.58 208.33,403.17 209.20,403.70 C210.07,404.23 211.03,404.70 211.80,405.10 C212.57,405.50 213.08,405.60 213.80,406.10 C214.52,406.60 215.32,407.62 216.10,408.10 C216.88,408.58 217.65,408.72 218.50,409.00 C219.35,409.28 220.42,409.40 221.20,409.80 C221.98,410.20 222.60,411.35 223.20,411.40 C223.80,411.45 224.35,410.13 224.80,410.10 C225.25,410.07 225.53,411.18 225.90,411.20 C226.27,411.22 226.40,410.17 227.00,410.20 C227.60,410.23 228.65,411.47 229.50,411.40 C230.35,411.33 231.42,409.92 232.10,409.80 C232.78,409.68 233.12,410.70 233.60,410.70 C234.08,410.70 234.40,409.50 235.00,409.80 C235.60,410.10 236.23,412.07 237.20,412.50 C238.17,412.93 239.58,412.15 240.80,412.40 C242.02,412.65 243.13,413.68 244.50,414.00 C245.87,414.32 247.55,414.25 249.00,414.30 C250.45,414.35 251.03,414.35 253.20,414.30 C255.37,414.25 258.65,414.05 262.00,414.00 C265.35,413.95 271.42,414.00 273.30,414.00" fill="none" stroke="#4a4a4a" stroke-width="1.0" stroke-linejoin="round"/>
<path d="M59.80,412.60 C60.00,412.50 60.55,412.40 61.00,412.00 C61.45,411.60 62.00,411.23 62.50,410.20 C63.00,409.17 63.50,407.83 64.00,405.80 C64.50,403.77 65.00,401.47 65.50,398.00 C66.00,394.53 66.43,393.83 67.00,385.00 C67.57,376.17 68.30,356.23 68.90,345.00 C69.50,333.77 70.08,325.10 70.60,317.60 C71.12,310.10 71.52,304.77 72.00,300.00 C72.48,295.23 73.00,291.73 73.50,289.00 C74.00,286.27 74.42,284.90 75.00,283.60 C75.58,282.30 76.40,281.67 77.00,281.20 C77.60,280.73 78.07,280.77 78.60,280.80 C79.13,280.83 79.63,280.70 80.20,281.40 C80.77,282.10 81.43,281.90 82.00,285.00 C82.57,288.10 83.17,294.57 83.60,300.00 C84.02,305.43 84.17,310.93 84.55,317.60 C84.92,324.27 85.48,331.27 85.85,340.00 C86.22,348.73 86.45,360.83 86.75,370.00 C87.05,379.17 87.30,389.00 87.65,395.00 C88.00,401.00 88.33,403.20 88.85,406.00 C89.37,408.80 90.03,410.52 90.75,411.80 C91.47,413.08 92.40,413.63 93.15,413.70 C93.90,413.77 94.57,413.57 95.25,412.20 C95.93,410.83 96.56,407.87 97.25,405.50 C97.94,403.13 98.81,400.58 99.40,398.00 C99.99,395.42 100.28,393.83 100.80,390.00 C101.32,386.17 101.93,380.42 102.50,375.00 C103.07,369.58 103.62,363.33 104.20,357.50 C104.78,351.67 105.47,345.42 106.00,340.00 C106.53,334.58 106.90,330.60 107.40,325.00 C107.90,319.40 108.41,310.48 109.00,306.40 C109.59,302.32 110.23,301.82 110.95,300.50 C111.67,299.18 112.67,298.92 113.35,298.50 C114.02,298.08 114.22,298.05 115.00,298.00 C115.78,297.95 117.17,298.27 118.00,298.20 C118.83,298.13 119.33,297.67 120.00,297.60 C120.67,297.53 121.33,297.37 122.00,297.80 C122.67,298.23 123.23,299.22 124.00,300.20 C124.77,301.18 125.83,302.43 126.60,303.70 C127.37,304.97 127.93,306.37 128.60,307.80 C129.27,309.23 129.83,311.17 130.60,312.30 C131.37,313.43 132.58,313.57 133.20,314.60 C133.82,315.63 133.97,317.02 134.30,318.50 C134.63,319.98 134.88,321.42 135.20,323.50 C135.52,325.58 135.87,328.25 136.20,331.00 C136.53,333.75 136.78,336.00 137.20,340.00 C137.62,344.00 138.20,349.87 138.70,355.00 C139.20,360.13 139.70,366.47 140.20,370.80 C140.70,375.13 141.23,377.93 141.70,381.00 C142.17,384.07 142.60,386.87 143.00,389.20 C143.40,391.53 143.75,393.23 144.10,395.00 C144.45,396.77 144.93,399.00 145.10,399.80" fill="none" stroke="#e8262b" stroke-width="1.2" stroke-linejoin="round"/>
<path d="M128.80,414.70 C129.25,414.22 130.72,412.83 131.50,411.80 C132.28,410.77 132.92,409.63 133.50,408.50 C134.08,407.37 134.33,406.75 135.00,405.00 C135.67,403.25 136.80,400.63 137.50,398.00 C138.20,395.37 138.72,392.20 139.20,389.20 C139.68,386.20 140.03,383.07 140.40,380.00 C140.77,376.93 141.08,374.13 141.40,370.80 C141.72,367.47 142.00,363.38 142.30,360.00 C142.60,356.62 142.90,353.83 143.20,350.50 C143.50,347.17 143.77,343.33 144.10,340.00 C144.43,336.67 144.67,333.83 145.20,330.50 C145.73,327.17 146.58,324.32 147.30,320.00 C148.02,315.68 148.88,308.33 149.50,304.60 C150.12,300.87 150.38,299.35 151.00,297.60 C151.62,295.85 152.47,294.53 153.20,294.10 C153.93,293.67 154.52,294.78 155.40,295.00 C156.28,295.22 157.70,295.18 158.50,295.40 C159.30,295.62 159.47,295.72 160.20,296.30 C160.93,296.88 162.02,298.10 162.90,298.90 C163.78,299.70 164.63,300.15 165.50,301.10 C166.37,302.05 167.22,303.28 168.10,304.60 C168.98,305.92 169.98,307.53 170.80,309.00 C171.62,310.47 172.35,311.78 173.00,313.40 C173.65,315.02 174.13,316.93 174.70,318.70 C175.27,320.47 175.80,322.03 176.40,324.00 C177.00,325.97 177.67,328.33 178.30,330.50 C178.93,332.67 179.58,334.75 180.20,337.00 C180.82,339.25 181.40,341.67 182.00,344.00 C182.60,346.33 183.22,348.67 183.80,351.00 C184.38,353.33 184.93,355.75 185.50,358.00 C186.07,360.25 186.62,362.43 187.20,364.50 C187.78,366.57 188.40,368.48 189.00,370.40 C189.60,372.32 190.22,374.25 190.80,376.00 C191.38,377.75 191.87,379.32 192.50,380.90 C193.13,382.48 193.87,384.05 194.60,385.50 C195.33,386.95 196.17,388.28 196.90,389.60 C197.63,390.92 198.27,392.22 199.00,393.40 C199.73,394.58 200.50,395.67 201.30,396.70 C202.10,397.73 202.92,398.73 203.80,399.60 C204.68,400.47 205.70,401.22 206.60,401.90 C207.50,402.58 208.33,403.17 209.20,403.70 C210.07,404.23 211.03,404.70 211.80,405.10 C212.57,405.50 213.08,405.73 213.80,406.10 C214.52,406.47 215.32,406.95 216.10,407.30 C216.88,407.65 217.65,407.92 218.50,408.20 C219.35,408.48 220.42,408.97 221.20,409.00 C221.98,409.03 222.60,408.72 223.20,408.40 C223.80,408.08 224.35,407.13 224.80,407.10 C225.25,407.07 225.53,407.82 225.90,408.20 C226.27,408.58 226.40,409.37 227.00,409.40 C227.60,409.43 228.65,408.83 229.50,408.40 C230.35,407.97 231.42,406.92 232.10,406.80 C232.78,406.68 233.12,407.33 233.60,407.70 C234.08,408.07 234.40,408.33 235.00,409.00 C235.60,409.67 236.23,411.27 237.20,411.70 C238.17,412.13 239.58,411.35 240.80,411.60 C242.02,411.85 243.13,412.88 244.50,413.20 C245.87,413.52 247.55,413.45 249.00,413.50 C250.45,413.55 251.03,413.60 253.20,413.50 C255.37,413.40 259.53,413.10 262.00,412.90 C264.47,412.70 266.12,412.52 268.00,412.30 C269.88,412.08 272.42,411.72 273.30,411.60" fill="none" stroke="#e8262b" stroke-width="1.2" stroke-linejoin="round"/>
<path d="M59.80,414.40 C60.00,414.33 60.55,414.48 61.00,414.00 C61.45,413.52 62.00,412.75 62.50,411.50 C63.00,410.25 63.50,408.75 64.00,406.50 C64.50,404.25 65.00,401.58 65.50,398.00 C66.00,394.42 66.43,393.83 67.00,385.00 C67.57,376.17 68.30,356.23 68.90,345.00 C69.50,333.77 70.08,325.10 70.60,317.60 C71.12,310.10 71.52,304.77 72.00,300.00 C72.48,295.23 73.00,291.73 73.50,289.00 C74.00,286.27 74.42,284.90 75.00,283.60 C75.58,282.30 76.42,281.67 77.00,281.20 C77.58,280.73 78.00,280.77 78.50,280.80 C79.00,280.83 79.45,280.70 80.00,281.40 C80.55,282.10 81.23,281.90 81.80,285.00 C82.37,288.10 82.98,294.57 83.40,300.00 C83.82,305.43 83.93,310.93 84.30,317.60 C84.67,324.27 85.23,331.27 85.60,340.00 C85.97,348.73 86.20,360.83 86.50,370.00 C86.80,379.17 87.05,389.00 87.40,395.00 C87.75,401.00 88.08,403.20 88.60,406.00 C89.12,408.80 89.78,410.52 90.50,411.80 C91.22,413.08 92.15,413.63 92.90,413.70 C93.65,413.77 94.32,413.57 95.00,412.20 C95.68,410.83 96.33,407.87 97.00,405.50 C97.67,403.13 98.47,400.58 99.05,398.00 C99.62,395.42 99.93,393.83 100.45,390.00 C100.97,386.17 101.58,380.42 102.15,375.00 C102.72,369.58 103.27,363.33 103.85,357.50 C104.43,351.67 105.12,345.42 105.65,340.00 C106.18,334.58 106.55,330.60 107.05,325.00 C107.55,319.40 108.05,310.60 108.65,306.40 C109.25,302.20 110.00,301.45 110.65,299.80 C111.30,298.15 111.99,297.10 112.55,296.50 C113.11,295.90 113.42,296.28 114.00,296.20 C114.58,296.12 115.33,295.98 116.00,296.00 C116.67,296.02 117.33,296.33 118.00,296.30 C118.67,296.27 119.33,295.83 120.00,295.80 C120.67,295.77 121.33,295.63 122.00,296.10 C122.67,296.57 123.33,297.65 124.00,298.60 C124.67,299.55 125.28,300.53 126.00,301.80 C126.72,303.07 127.53,304.57 128.30,306.20 C129.07,307.83 129.88,310.37 130.60,311.60 C131.32,312.83 132.07,312.70 132.60,313.60 C133.13,314.50 133.47,315.57 133.80,317.00 C134.13,318.43 134.27,319.87 134.60,322.20 C134.93,324.53 135.42,328.03 135.80,331.00 C136.18,333.97 136.45,336.00 136.90,340.00 C137.35,344.00 137.98,349.87 138.50,355.00 C139.02,360.13 139.50,366.47 140.00,370.80 C140.50,375.13 141.03,377.93 141.50,381.00 C141.97,384.07 142.38,386.87 142.80,389.20 C143.22,391.53 143.62,393.23 144.00,395.00 C144.38,396.77 144.92,399.00 145.10,399.80" fill="none" stroke="#3a78dc" stroke-width="1.2" stroke-linejoin="round"/>
<path d="M128.80,414.70 C129.25,414.22 130.72,412.83 131.50,411.80 C132.28,410.77 132.92,409.63 133.50,408.50 C134.08,407.37 134.35,406.75 135.00,405.00 C135.65,403.25 136.72,400.63 137.40,398.00 C138.08,395.37 138.62,392.20 139.10,389.20 C139.58,386.20 139.93,383.07 140.30,380.00 C140.67,376.93 140.98,374.13 141.30,370.80 C141.62,367.47 141.90,363.38 142.20,360.00 C142.50,356.62 142.80,353.83 143.10,350.50 C143.40,347.17 143.65,343.42 144.00,340.00 C144.35,336.58 144.67,333.33 145.20,330.00 C145.73,326.67 146.57,324.38 147.20,320.00 C147.83,315.62 148.42,307.58 149.00,303.70 C149.58,299.82 150.15,298.75 150.70,296.70 C151.25,294.65 151.67,292.78 152.30,291.40 C152.93,290.02 153.83,288.83 154.50,288.40 C155.17,287.97 155.57,288.80 156.30,288.80 C157.03,288.80 158.03,288.33 158.90,288.40 C159.77,288.47 160.77,288.77 161.50,289.20 C162.23,289.63 162.63,290.18 163.30,291.00 C163.97,291.82 164.70,293.08 165.50,294.10 C166.30,295.12 167.30,295.93 168.10,297.10 C168.90,298.27 169.57,299.70 170.30,301.10 C171.03,302.50 171.77,303.88 172.50,305.50 C173.23,307.12 173.97,308.75 174.70,310.80 C175.43,312.85 176.25,315.68 176.90,317.80 C177.55,319.92 178.00,321.30 178.60,323.50 C179.20,325.70 179.80,327.58 180.50,331.00 C181.20,334.42 182.12,340.67 182.80,344.00 C183.48,347.33 184.02,348.67 184.60,351.00 C185.18,353.33 185.73,355.75 186.30,358.00 C186.87,360.25 187.42,362.43 188.00,364.50 C188.58,366.57 189.23,368.48 189.80,370.40 C190.37,372.32 190.92,374.25 191.44,376.00 C191.96,377.75 192.37,379.32 192.94,380.90 C193.51,382.48 194.18,384.05 194.86,385.50 C195.54,386.95 196.31,388.28 197.00,389.60 C197.69,390.92 198.28,392.22 199.00,393.40 C199.72,394.58 200.50,395.67 201.30,396.70 C202.10,397.73 202.92,398.73 203.80,399.60 C204.68,400.47 205.70,401.22 206.60,401.90 C207.50,402.58 208.33,403.17 209.20,403.70 C210.07,404.23 211.03,404.70 211.80,405.10 C212.57,405.50 213.08,405.73 213.80,406.10 C214.52,406.47 215.32,406.95 216.10,407.30 C216.88,407.65 217.65,407.92 218.50,408.20 C219.35,408.48 220.42,408.97 221.20,409.00 C221.98,409.03 222.60,408.72 223.20,408.40 C223.80,408.08 224.35,407.13 224.80,407.10 C225.25,407.07 225.53,407.82 225.90,408.20 C226.27,408.58 226.40,409.37 227.00,409.40 C227.60,409.43 228.65,408.83 229.50,408.40 C230.35,407.97 231.42,406.92 232.10,406.80 C232.78,406.68 233.12,407.33 233.60,407.70 C234.08,408.07 234.40,408.33 235.00,409.00 C235.60,409.67 236.23,411.27 237.20,411.70 C238.17,412.13 239.58,411.35 240.80,411.60 C242.02,411.85 243.13,412.88 244.50,413.20 C245.87,413.52 247.55,413.45 249.00,413.50 C250.45,413.55 251.03,413.48 253.20,413.50 C255.37,413.52 258.65,413.60 262.00,413.60 C265.35,413.60 271.42,413.52 273.30,413.50" fill="none" stroke="#3a78dc" stroke-width="1.2" stroke-linejoin="round"/>
<rect x="59.6" y="248.3" width="213.90" height="171.70" fill="none" stroke="#151515" stroke-width="1.75"/>
<line x1="59.60" y1="420.00" x2="59.60" y2="423.80" stroke="#151515" stroke-width="1.3" />
<line x1="80.99" y1="420.00" x2="80.99" y2="422.20" stroke="#151515" stroke-width="1.3" />
<line x1="102.38" y1="420.00" x2="102.38" y2="423.80" stroke="#151515" stroke-width="1.3" />
<line x1="123.77" y1="420.00" x2="123.77" y2="422.20" stroke="#151515" stroke-width="1.3" />
<line x1="145.16" y1="420.00" x2="145.16" y2="423.80" stroke="#151515" stroke-width="1.3" />
<line x1="166.55" y1="420.00" x2="166.55" y2="422.20" stroke="#151515" stroke-width="1.3" />
<line x1="187.94" y1="420.00" x2="187.94" y2="423.80" stroke="#151515" stroke-width="1.3" />
<line x1="209.33" y1="420.00" x2="209.33" y2="422.20" stroke="#151515" stroke-width="1.3" />
<line x1="230.72" y1="420.00" x2="230.72" y2="423.80" stroke="#151515" stroke-width="1.3" />
<line x1="252.11" y1="420.00" x2="252.11" y2="422.20" stroke="#151515" stroke-width="1.3" />
<line x1="273.50" y1="420.00" x2="273.50" y2="423.80" stroke="#151515" stroke-width="1.3" />
<text x="0.00" y="0.00" font-size="10.6" text-anchor="middle" fill="#000" stroke="#000" stroke-width="0.12" transform="translate(59.60,434.90) scale(1,1.1)" >300</text>
<text x="0.00" y="0.00" font-size="10.6" text-anchor="middle" fill="#000" stroke="#000" stroke-width="0.12" transform="translate(102.38,434.90) scale(1,1.1)" >400</text>
<text x="0.00" y="0.00" font-size="10.6" text-anchor="middle" fill="#000" stroke="#000" stroke-width="0.12" transform="translate(145.16,434.90) scale(1,1.1)" >500</text>
<text x="0.00" y="0.00" font-size="10.6" text-anchor="middle" fill="#000" stroke="#000" stroke-width="0.12" transform="translate(187.94,434.90) scale(1,1.1)" >600</text>
<text x="0.00" y="0.00" font-size="10.6" text-anchor="middle" fill="#000" stroke="#000" stroke-width="0.12" transform="translate(230.72,434.90) scale(1,1.1)" >700</text>
<text x="0.00" y="0.00" font-size="10.6" text-anchor="middle" fill="#000" stroke="#000" stroke-width="0.12" transform="translate(273.50,434.90) scale(1,1.1)" >800</text>
<line x1="59.60" y1="417.30" x2="56.00" y2="417.30" stroke="#151515" stroke-width="1.3" />
<line x1="59.60" y1="403.22" x2="57.60" y2="403.22" stroke="#151515" stroke-width="1.3" />
<line x1="59.60" y1="389.13" x2="56.00" y2="389.13" stroke="#151515" stroke-width="1.3" />
<line x1="59.60" y1="375.05" x2="57.60" y2="375.05" stroke="#151515" stroke-width="1.3" />
<line x1="59.60" y1="360.97" x2="56.00" y2="360.97" stroke="#151515" stroke-width="1.3" />
<line x1="59.60" y1="346.88" x2="57.60" y2="346.88" stroke="#151515" stroke-width="1.3" />
<line x1="59.60" y1="332.80" x2="56.00" y2="332.80" stroke="#151515" stroke-width="1.3" />
<line x1="59.60" y1="318.72" x2="57.60" y2="318.72" stroke="#151515" stroke-width="1.3" />
<line x1="59.60" y1="304.63" x2="56.00" y2="304.63" stroke="#151515" stroke-width="1.3" />
<line x1="59.60" y1="290.55" x2="57.60" y2="290.55" stroke="#151515" stroke-width="1.3" />
<line x1="59.60" y1="276.47" x2="56.00" y2="276.47" stroke="#151515" stroke-width="1.3" />
<line x1="59.60" y1="262.38" x2="57.60" y2="262.38" stroke="#151515" stroke-width="1.3" />
<line x1="59.60" y1="248.30" x2="56.00" y2="248.30" stroke="#151515" stroke-width="1.3" />
<text x="0.00" y="0.00" font-size="10.6" text-anchor="end" fill="#000" stroke="#000" stroke-width="0.12" transform="translate(54.3,421.05) scale(1,1.1)">0</text>
<text x="0.00" y="0.00" font-size="10.6" text-anchor="end" fill="#000" stroke="#000" stroke-width="0.12" transform="translate(54.3,392.88) scale(1,1.1)">500</text>
<text x="0.00" y="0.00" font-size="10.6" text-anchor="end" fill="#000" stroke="#000" stroke-width="0.12" transform="translate(54.3,364.72) scale(1,1.1)">1000</text>
<text x="0.00" y="0.00" font-size="10.6" text-anchor="end" fill="#000" stroke="#000" stroke-width="0.12" transform="translate(54.3,336.55) scale(1,1.1)">1500</text>
<text x="0.00" y="0.00" font-size="10.6" text-anchor="end" fill="#000" stroke="#000" stroke-width="0.12" transform="translate(54.3,308.38) scale(1,1.1)">2000</text>
<text x="0.00" y="0.00" font-size="10.6" text-anchor="end" fill="#000" stroke="#000" stroke-width="0.12" transform="translate(54.3,280.22) scale(1,1.1)">2500</text>
<text x="0.00" y="0.00" font-size="10.6" text-anchor="end" fill="#000" stroke="#000" stroke-width="0.12" transform="translate(54.3,252.05) scale(1,1.1)">3000</text>
<text x="122.80" y="447.00" font-size="12.75" text-anchor="start" fill="#000" stroke="#000" stroke-width="0.12" >Wavelength (nm)</text>
<text x="0.00" y="0.00" font-size="12.75" text-anchor="middle" fill="#000" stroke="#000" stroke-width="0.12" transform="translate(28.4,331.1) rotate(-90)">Intensity (a.u.)</text>
<text x="5.60" y="243.60" font-size="16.8" text-anchor="start" fill="#000" stroke="#000" stroke-width="0.12" >(c)</text>
<line x1="200.10" y1="263.20" x2="223.60" y2="263.20" stroke="#4a4a4a" stroke-width="1.2" />
<text x="0.00" y="0.00" font-size="10.5" text-anchor="start" fill="#000" stroke="#000" stroke-width="0.12" transform="translate(226.80,267.00) scale(1,1.07)" >x=0.011</text>
<line x1="200.10" y1="276.30" x2="223.60" y2="276.30" stroke="#e8262b" stroke-width="1.3" />
<text x="0.00" y="0.00" font-size="10.5" text-anchor="start" fill="#000" stroke="#000" stroke-width="0.12" transform="translate(226.80,280.10) scale(1,1.07)" >x=0.013</text>
<line x1="200.10" y1="289.10" x2="223.60" y2="289.10" stroke="#3a78dc" stroke-width="1.3" />
<text x="0.00" y="0.00" font-size="10.5" text-anchor="start" fill="#000" stroke="#000" stroke-width="0.12" transform="translate(226.80,292.90) scale(1,1.07)" >x=0.015</text>
</g>
<g id="panel-d">
<defs><clipPath id="semclip"><rect x="300.3" y="250.9" width="241.3" height="170.9"/></clipPath></defs>
<rect x="300.3" y="250.9" width="241.30" height="170.90" fill="#a8a8a8"/>
<g clip-path="url(#semclip)">
<polygon points="344.8,253.3 345.7,250.0 401.6,250.0 400.8,267.4 386.0,283.6 381.0,284.6 368.0,274.5 358.0,265.1 350.7,258.5" fill="#9e9e9e"/>
<polygon points="402.2,298.2 436.4,280.3 461.3,301.2 460.6,320.0 459.9,337.0 456.6,348.4 422.0,353.2 412.2,347.2 414.3,337.0 409.0,322.0 402.0,310.8" fill="#a1a1a1"/>
<polygon points="315.1,307.4 325.0,301.4 346.8,312.7 346.3,328.0 345.9,335.0 344.9,343.6 326.8,342.6 322.9,335.0 320.0,322.0" fill="#a5a5a5"/>
<polygon points="333.6,250.0 334.9,253.3 344.8,253.3 345.7,250.0" fill="#969696"/>
<polygon points="386.0,283.6 400.8,267.4 418.0,270.0 436.3,272.5 436.4,280.3 402.2,298.2" fill="#ababab"/>
<path d="M333.6,250.0 L334.9,253.3 L344.8,253.3 L345.7,250.0M334.9,253.3 L331.0,262.5 L327.7,274.4 L325.7,286.2 L325.0,301.4M344.8,253.3 L350.7,258.5 L358.0,265.1 L368.0,274.5 L381.0,284.6 L386.0,283.6M325.0,301.4 L346.8,312.7M346.8,312.7 L363.1,303.5 L374.5,292.0 L381.0,284.6M346.8,312.7 L346.3,328.0 L345.9,335.0 L344.9,343.6M325.0,301.4 L315.1,307.4M299.0,299.8 L315.1,307.4M315.1,307.4 L320.0,322.0 L322.9,335.0 L326.8,342.6M326.8,342.6 L344.9,343.6M326.8,342.6 L299.0,380.5M386.0,283.6 L400.8,267.4M400.8,267.4 L401.6,250.0M400.8,267.4 L418.0,270.0 L436.3,272.5M436.3,272.5 L441.1,264.4M441.1,264.4 L437.2,250.0M441.1,264.4 L458.0,263.4 L480.6,264.8M436.3,272.5 L436.4,280.3M436.4,280.3 L402.2,298.2M386.0,283.6 L402.2,298.2M436.4,280.3 L450.0,292.0 L461.3,301.2M402.2,298.2 L402.0,310.8M402.0,310.8 L400.6,325.0 L400.9,337.0 L403.4,347.0M402.0,310.8 L409.0,322.0 L414.3,337.0 L412.2,347.2M403.4,347.0 L412.2,347.2M403.4,347.0 L382.3,362.9M377.0,362.9 L382.3,362.9M412.2,347.2 L422.0,353.2M422.0,353.2 L456.6,348.4M461.3,301.2 L460.6,320.0 L459.9,337.0 L456.6,348.4M456.6,348.4 L462.0,352.0 L469.5,356.0M480.6,264.8 L488.3,250.0M480.6,264.8 L487.2,284.6M487.2,284.6 L461.3,301.2M487.2,284.6 L516.3,293.0M516.3,293.0 L509.6,335.0 L504.8,349.3M516.3,293.0 L531.5,285.3M531.5,285.3 L534.5,281.0 L537.5,275.6 L539.4,268.5 L540.8,261.5 L542.0,257.5M536.8,250.0 L542.5,257.0M531.5,285.3 L543.0,290.0M537.5,275.6 L543.0,280.5M504.8,349.3 L469.5,356.0M469.5,356.0 L467.6,385.6M467.6,385.6 L455.0,393.5 L445.0,402.0 L437.3,412.4M467.6,385.6 L482.0,395.0 L494.8,404.5 L500.3,407.7 L508.3,407.7 L512.6,402.3 L524.9,386.6M500.3,407.7 L498.8,410.6 L496.6,416.1 L493.7,423.0M508.3,407.7 L512.0,414.0 L508.0,423.0M504.8,349.3 L524.9,386.6M524.9,386.6 L543.0,389.4M344.9,343.6 L348.7,363.7 L357.3,388.1M344.9,343.6 L377.0,362.9M377.0,362.9 L357.3,388.1M382.3,362.9 L403.6,396.3M422.0,353.2 L403.6,396.3M357.3,388.1 L319.1,414.3M357.3,388.1 L385.2,413.8M319.1,414.3 L299.0,406.7M319.1,414.3 L319.1,423.0M403.6,396.3 L437.3,412.4M403.6,396.3 L385.2,413.8M385.2,413.8 L385.6,423.0M437.3,412.4 L440.1,423.0" fill="none" stroke="#cfcfcf" stroke-width="3.0" stroke-linejoin="round" stroke-linecap="round"/>
<path d="M333.6,250.0 L334.9,253.3 L344.8,253.3 L345.7,250.0M334.9,253.3 L331.0,262.5 L327.7,274.4 L325.7,286.2 L325.0,301.4M344.8,253.3 L350.7,258.5 L358.0,265.1 L368.0,274.5 L381.0,284.6 L386.0,283.6M325.0,301.4 L346.8,312.7M346.8,312.7 L363.1,303.5 L374.5,292.0 L381.0,284.6M346.8,312.7 L346.3,328.0 L345.9,335.0 L344.9,343.6M325.0,301.4 L315.1,307.4M299.0,299.8 L315.1,307.4M315.1,307.4 L320.0,322.0 L322.9,335.0 L326.8,342.6M326.8,342.6 L344.9,343.6M326.8,342.6 L299.0,380.5M386.0,283.6 L400.8,267.4M400.8,267.4 L401.6,250.0M400.8,267.4 L418.0,270.0 L436.3,272.5M436.3,272.5 L441.1,264.4M441.1,264.4 L437.2,250.0M441.1,264.4 L458.0,263.4 L480.6,264.8M436.3,272.5 L436.4,280.3M436.4,280.3 L402.2,298.2M386.0,283.6 L402.2,298.2M436.4,280.3 L450.0,292.0 L461.3,301.2M402.2,298.2 L402.0,310.8M402.0,310.8 L400.6,325.0 L400.9,337.0 L403.4,347.0M402.0,310.8 L409.0,322.0 L414.3,337.0 L412.2,347.2M403.4,347.0 L412.2,347.2M403.4,347.0 L382.3,362.9M377.0,362.9 L382.3,362.9M412.2,347.2 L422.0,353.2M422.0,353.2 L456.6,348.4M461.3,301.2 L460.6,320.0 L459.9,337.0 L456.6,348.4M456.6,348.4 L462.0,352.0 L469.5,356.0M480.6,264.8 L488.3,250.0M480.6,264.8 L487.2,284.6M487.2,284.6 L461.3,301.2M487.2,284.6 L516.3,293.0M516.3,293.0 L509.6,335.0 L504.8,349.3M516.3,293.0 L531.5,285.3M531.5,285.3 L534.5,281.0 L537.5,275.6 L539.4,268.5 L540.8,261.5 L542.0,257.5M536.8,250.0 L542.5,257.0M531.5,285.3 L543.0,290.0M537.5,275.6 L543.0,280.5M504.8,349.3 L469.5,356.0M469.5,356.0 L467.6,385.6M467.6,385.6 L455.0,393.5 L445.0,402.0 L437.3,412.4M467.6,385.6 L482.0,395.0 L494.8,404.5 L500.3,407.7 L508.3,407.7 L512.6,402.3 L524.9,386.6M500.3,407.7 L498.8,410.6 L496.6,416.1 L493.7,423.0M508.3,407.7 L512.0,414.0 L508.0,423.0M504.8,349.3 L524.9,386.6M524.9,386.6 L543.0,389.4M344.9,343.6 L348.7,363.7 L357.3,388.1M344.9,343.6 L377.0,362.9M377.0,362.9 L357.3,388.1M382.3,362.9 L403.6,396.3M422.0,353.2 L403.6,396.3M357.3,388.1 L319.1,414.3M357.3,388.1 L385.2,413.8M319.1,414.3 L299.0,406.7M319.1,414.3 L319.1,423.0M403.6,396.3 L437.3,412.4M403.6,396.3 L385.2,413.8M385.2,413.8 L385.6,423.0M437.3,412.4 L440.1,423.0" fill="none" stroke="#686868" stroke-width="0.95" stroke-linejoin="round"/>
</g>
<text x="279.40" y="243.60" font-size="16.7" text-anchor="start" fill="#000" stroke="#000" stroke-width="0.12" >(d)</text>
<rect x="494" y="411.8" width="44.8" height="2.9" fill="#fff"/>
<text x="492.70" y="406.10" font-size="19.2" text-anchor="start" fill="#fff" stroke="#fff" stroke-width="0.35">10μm</text>
</g>
</svg>
</body></html>
